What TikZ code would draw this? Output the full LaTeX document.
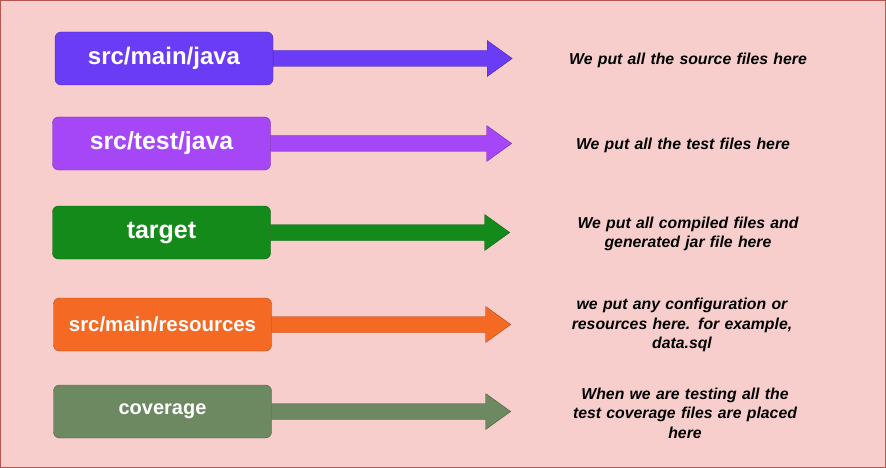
\documentclass[tikz,border=0pt]{standalone}
\usepackage{fontspec}
\setmainfont{Liberation Sans}
\definecolor{bg}{HTML}{F8CECC}
\definecolor{bd}{HTML}{B85450}
\definecolor{c1}{HTML}{6A3CF5}
\definecolor{c2}{HTML}{A647F7}
\definecolor{c3}{HTML}{148A1A}
\definecolor{c4}{HTML}{F46A25}
\definecolor{c5}{HTML}{6D8962}
\begin{document}
\begin{tikzpicture}[x=1pt,y=-1pt,
  box/.style={draw=#1!70!black,fill=#1,rounded corners=6pt,minimum width=218pt,minimum height=53pt,text=white,inner sep=0pt},
  lab/.style={font=\bfseries\itshape\fontsize{15.8}{19.5}\selectfont,align=center,text width=300pt},
  barrow/.style={draw=#1!70!black,fill=#1}]
\useasboundingbox (0,0) rectangle (886,468);
\fill[bg] (0,0) rectangle (886,468);
\draw[bd,line width=1pt] (0.5,0.5) rectangle (885.5,467.5);
\node[box=c1,font=\bfseries\fontsize{24}{28}\selectfont] (b1) at (164,58.5) {src/main/java};
\node[box=c2,font=\bfseries\fontsize{24.8}{28}\selectfont] (b2) at (161.5,143.5) {src/test/java};
\node[box=c3,font=\bfseries\fontsize{25}{28}\selectfont] (b3) at (161.5,232.5) {target};
\node[box=c4,font=\bfseries\fontsize{20.4}{24}\selectfont] (b4) at (162.5,324.5) {src/main/resources};
\node[box=c5,font=\bfseries\fontsize{20}{24}\selectfont] (b5) at (162.5,411.5) {coverage};
\draw[barrow=c1] (b1.east) ++(0,-8) -- ++(214,0) -- ++(0,-10) -- ++(25,18) -- ++(-25,18) -- ++(0,-10) -- ++(-214,0) -- cycle;
\draw[barrow=c2] (b2.east) ++(0,-8) -- ++(216,0) -- ++(0,-10) -- ++(25,18) -- ++(-25,18) -- ++(0,-10) -- ++(-216,0) -- cycle;
\draw[barrow=c3] (b3.east) ++(0,-8) -- ++(214,0) -- ++(0,-10) -- ++(25,18) -- ++(-25,18) -- ++(0,-10) -- ++(-214,0) -- cycle;
\draw[barrow=c4] (b4.east) ++(0,-8) -- ++(214,0) -- ++(0,-10) -- ++(25,18) -- ++(-25,18) -- ++(0,-10) -- ++(-214,0) -- cycle;
\draw[barrow=c5] (b5.east) ++(0,-8) -- ++(214,0) -- ++(0,-10) -- ++(25,18) -- ++(-25,18) -- ++(0,-10) -- ++(-214,0) -- cycle;
\node[lab] (t1) at (688,60) {We put all the source files here};
\node[lab] (t2) at (683,145) {We put all the test files here};
\node[lab] (t3) at (688,234) {We put all compiled files and\\generated jar file here};
\node[lab] (t4) at (682,325) {we put any configuration or\\resources here. for example,\\data.sql};
\node[lab] (t5) at (685,413) {When we are testing all the\\test coverage files are placed\\here};
\end{tikzpicture}
\end{document}
